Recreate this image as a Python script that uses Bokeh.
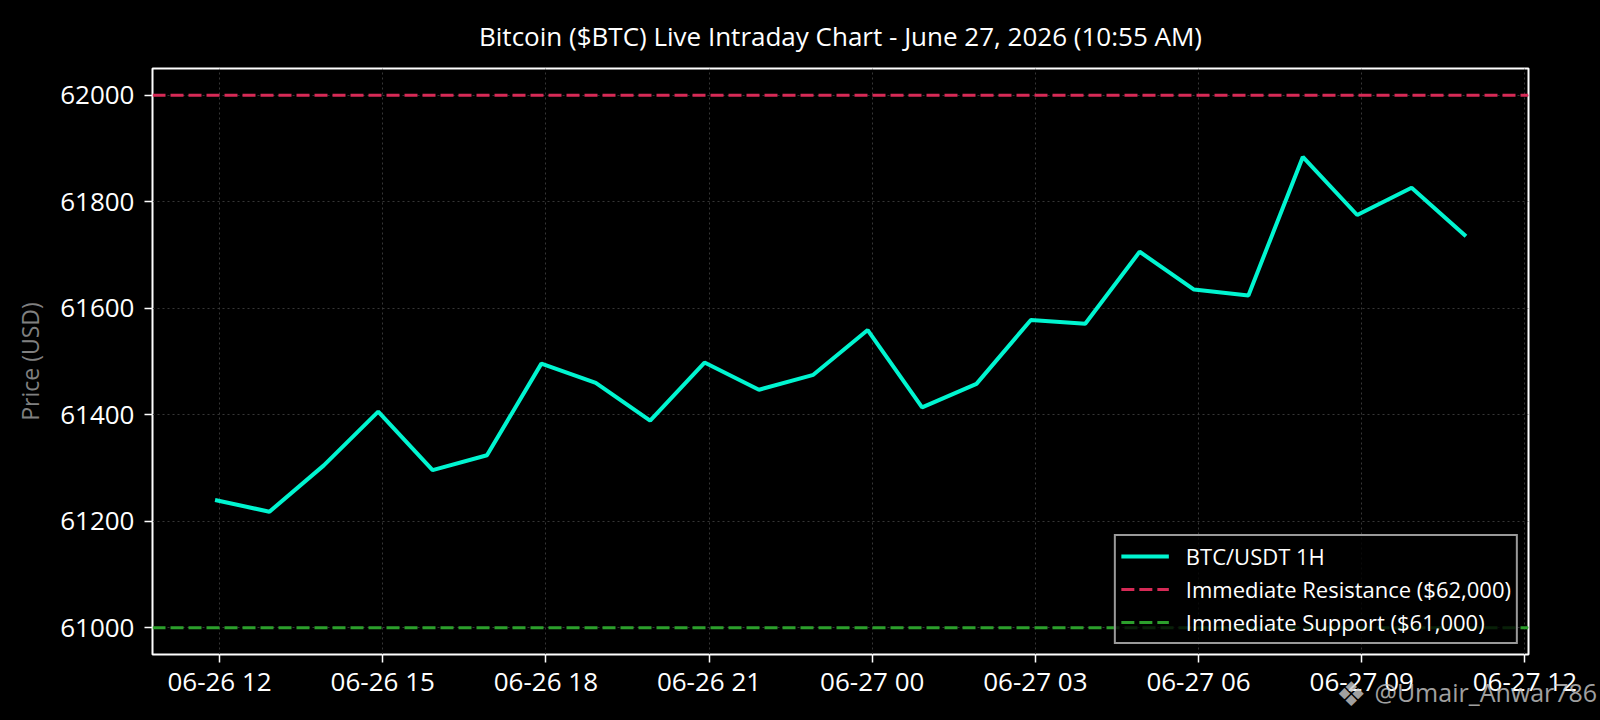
import pandas as pd
from bokeh.plotting import figure
from bokeh.models import (Range1d, DatetimeTickFormatter, SingleIntervalTicker,
                          NumeralTickFormatter, Div)
from bokeh.layouts import column
from bokeh.embed import file_html
from bokeh.resources import INLINE

# ---- data ----
times = pd.date_range("2026-06-26 11:55", periods=24, freq="h")
prices = [61240, 61218, 61305, 61406, 61296, 61324, 61496, 61460, 61389, 61498, 61447, 61475,
          61559, 61414, 61458, 61578, 61571, 61706, 61635, 61624, 61884, 61775, 61826, 61735]
resistance = 62000
support = 61000
title_text = "Bitcoin ($BTC) Live Intraday Chart - June 27, 2026 (10:55 AM)"
series_label = "BTC/USDT 1H"
res_label = "Immediate Resistance ($62,000)"
sup_label = "Immediate Support ($61,000)"
y_label = "Price (USD)"
watermark = "@Umair_Anwar786"
x_tick_hours = 3

FONT = "Open Sans"

t0, t1 = times[0], times[-1]
pad = (t1 - t0) * 0.05
x_start, x_end = t0 - pad, t1 + pad
ypad = (resistance - support) * 0.05
y_lo, y_hi = support - ypad, resistance + ypad

W, H = 1584, 704
BL, BT, BR, BB = 152, 68, 56, 50

p = figure(width=W, height=H, x_axis_type="datetime",
           x_range=Range1d(x_start, x_end),
           y_range=Range1d(y_lo, y_hi),
           output_backend="svg", toolbar_location=None,
           min_border_left=BL, min_border_right=BR, min_border_top=BT, min_border_bottom=BB,
           background_fill_color="black", border_fill_color="black")

p.title.text = title_text
p.title.align = "center"
p.title.text_color = "white"
p.title.text_font = FONT
p.title.text_font_size = "26px"
p.title.text_font_style = "normal"
p.title.standoff = 30

p.outline_line_color = "white"
p.outline_line_width = 2
p.outline_line_alpha = 1

for ax in (p.xaxis[0], p.yaxis[0]):
    ax.axis_line_color = None
    ax.major_tick_line_color = "white"
    ax.major_tick_line_width = 1.5
    ax.major_tick_out = 8
    ax.major_tick_in = 0
    ax.minor_tick_line_color = None
    ax.major_label_text_color = "white"
    ax.major_label_text_font = FONT
    ax.major_label_text_font_size = "26px"

p.xaxis.ticker = SingleIntervalTicker(interval=x_tick_hours * 3600 * 1000, num_minor_ticks=0)
p.xaxis.formatter = DatetimeTickFormatter(hours="%m-%d %H", days="%m-%d %H", minutes="%m-%d %H")
p.xaxis.major_label_standoff = 0

p.yaxis.ticker = SingleIntervalTicker(interval=200, num_minor_ticks=0)
p.yaxis.formatter = NumeralTickFormatter(format="0")
p.yaxis.major_label_standoff = 10
p.yaxis.axis_label = y_label
p.yaxis.axis_label_text_color = "#808080"
p.yaxis.axis_label_text_font = FONT
p.yaxis.axis_label_text_font_size = "23px"
p.yaxis.axis_label_text_font_style = "normal"
p.yaxis.axis_label_standoff = 11

p.grid.grid_line_color = "#363636"
p.grid.grid_line_dash = "2 3"
p.grid.grid_line_width = 1

p.line(times, prices, line_color="#00f5d0", line_width=4, legend_label=series_label)
p.line([x_start, x_end], [resistance, resistance], line_color="#d62a56", line_width=3,
       line_dash="13 5", legend_label=res_label)
p.line([x_start, x_end], [support, support], line_color="#2ca02c", line_width=3,
       line_dash="13 5", legend_label=sup_label)

lg = p.legend[0]
lg.location = "bottom_right"
lg.margin = 10
lg.background_fill_color = "black"
lg.background_fill_alpha = 0.8
lg.border_line_color = "#9a9a9a"
lg.border_line_alpha = 1.0
lg.border_line_width = 2
lg.label_text_color = "white"
lg.label_text_font = FONT
lg.label_text_font_size = "22px"
lg.glyph_width = 48
lg.glyph_height = 20
lg.label_height = 20
lg.label_standoff = 17
lg.padding = 5
lg.spacing = 3

# watermark overlapping the bottom-right corner of the canvas
wm = Div(text='<span style="font-family:\'DejaVu Sans\';font-size:34px;margin-right:8px;'
              'vertical-align:-4px;">&#10070;</span>' + watermark,
         width=248, height=24, margin=(-24, 0, 0, 1336),
         styles={"color": "#c8c8c8", "font-family": FONT, "font-size": "25px",
                 "white-space": "nowrap", "opacity": "0.8", "line-height": "24px",
                 "overflow": "visible"})

layout = column(p, wm, spacing=0)

html = file_html(layout, INLINE)
html = html.replace("</head>", "<style>html,body{background-color:#000000;}</style></head>", 1)
open("out.html", "w").write(html)
